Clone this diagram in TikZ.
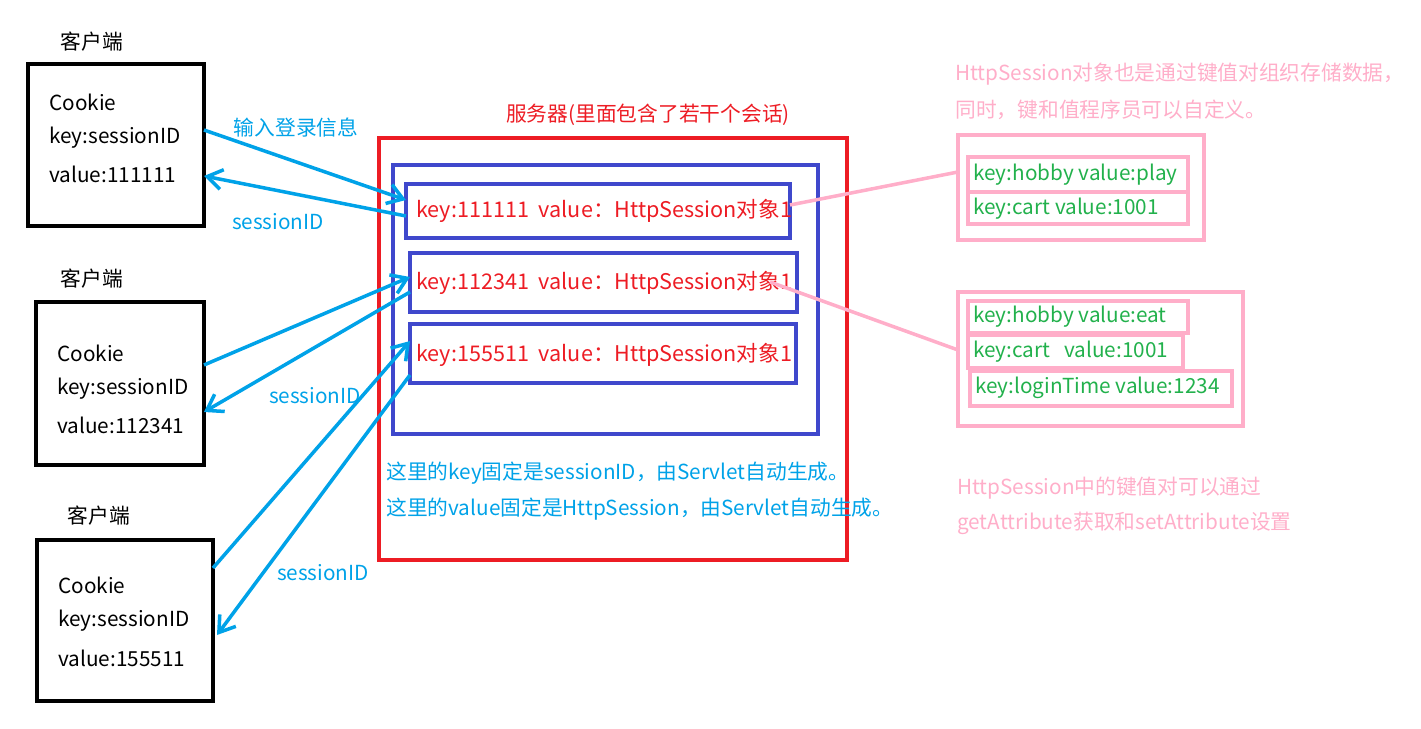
\documentclass[tikz,border=0pt]{standalone}
\usepackage{fontspec}
\setmainfont{Noto Sans CJK SC}
\usetikzlibrary{arrows.meta}
\definecolor{cred}{HTML}{ED1C24}
\definecolor{cblue}{HTML}{3F48CC}
\definecolor{ccyan}{HTML}{00A2E8}
\definecolor{cpink}{HTML}{FFAEC9}
\definecolor{cgreen}{HTML}{22B14C}
\begin{document}
\begin{tikzpicture}[x=0.02cm,y=-0.02cm,
  txt/.style={font=\fontsize{11.8}{13}\selectfont,inner sep=0pt},
  lt/.style={txt,anchor=west},
  st/.style={lt,text=cred,font=\fontsize{12.3}{14}\selectfont},
  cli/.style={draw=black,line width=2.2pt},
  sbox/.style={draw=cblue,line width=1.8pt},
  pbox/.style={draw=cpink,line width=1.8pt},
  arr/.style={ccyan,line width=2pt,-{Straight Barb[length=3mm,width=4mm]}},
  pl/.style={cpink,line width=2pt}]
\useasboundingbox (0,0) rectangle (1421,729);
% clients
\node[txt] at (92,42) {客户端};
\node[txt] at (92,279) {客户端};
\node[txt] at (99,516) {客户端};
\draw[cli] (28,64) rectangle (204,226);
\draw[cli] (36,302) rectangle (204,465);
\draw[cli] (37,540) rectangle (213,701);
\node[lt] at (49,102) {Cookie};
\node[lt] at (49,138) {key:sessionID};
\node[lt] at (49,174) {value:111111};
\node[lt] at (57,353) {Cookie};
\node[lt] at (57,389) {key:sessionID};
\node[lt] at (57,425) {value:112341};
\node[lt] at (58,585) {Cookie};
\node[lt] at (58,621) {key:sessionID};
\node[lt] at (58,658) {value:155511};
\coordinate (c1a) at (204,130); \coordinate (c1b) at (204,176);
\coordinate (c2a) at (204,365); \coordinate (c2b) at (204,412);
\coordinate (c3a) at (213,568); \coordinate (c3b) at (217,635);
% server
\node[txt,text=cred] at (648,115) {服务器(里面包含了若干个会话)};
\draw[cred,line width=2pt] (379,138) rectangle (847,560);
\draw[sbox] (393,165) rectangle (818,434);
\draw[sbox] (406,184) rectangle (790,238);
\draw[sbox] (410,253) rectangle (797,312);
\draw[sbox] (410,324) rectangle (796,383);
\node[st] (s1) at (416,211) {key:111111\ \ value：HttpSession对象1};
\node[st] (s2) at (416,283) {key:112341\ \ value：HttpSession对象1};
\node[st] (s3) at (416,355) {key:155511\ \ value：HttpSession对象1};
\node[lt,text=ccyan] at (386,473) {这里的key固定是sessionID，由Servlet自动生成。};
\node[lt,text=ccyan] at (386,509) {这里的value固定是HttpSession，由Servlet自动生成。};
% arrows
\draw[arr] (c1a) -- (406,200);
\draw[arr] (406,216) -- (c1b);
\node[txt,text=ccyan] at (296,128) {输入登录信息};
\node[txt,text=ccyan] at (278,222) {sessionID};
\draw[arr] (c2a) -- (410,277);
\draw[arr] (410,292) -- (c2b);
\node[txt,text=ccyan] at (315,396) {sessionID};
\draw[arr] (c3a) -- (410,341);
\draw[arr] (410,375) -- (c3b);
\node[txt,text=ccyan] at (323,573) {sessionID};
% right side
\node[lt,text=cpink] at (955,74) {HttpSession对象也是通过键值对组织存储数据，};
\node[lt,text=cpink] at (955,110) {同时，键和值程序员可以自定义。};
\draw[pbox] (958,135) rectangle (1204,240);
\draw[pbox] (968,157) rectangle (1188,192);
\draw[pbox] (968,192) rectangle (1188,224);
\node[lt,text=cgreen] at (973,175) {key:hobby value:play};
\node[lt,text=cgreen] at (973,209) {key:cart value:1001};
\draw[pbox] (958,292) rectangle (1243,426);
\draw[pbox] (968,301) rectangle (1188,333);
\draw[pbox] (968,335) rectangle (1183,368);
\draw[pbox] (970,371) rectangle (1232,406);
\node[lt,text=cgreen] at (973,317) {key:hobby value:eat};
\node[lt,text=cgreen] at (973,352) {key:cart\ \ \ value:1001};
\node[lt,text=cgreen] at (975,388) {key:loginTime value:1234};
\draw[pl] (790,205) -- (958,172);
\draw[pl] (770,282) -- (958,350);
\node[lt,text=cpink] at (957,488) {HttpSession中的键值对可以通过};
\node[lt,text=cpink] at (957,523) {getAttribute获取和setAttribute设置};
\end{tikzpicture}
\end{document}
